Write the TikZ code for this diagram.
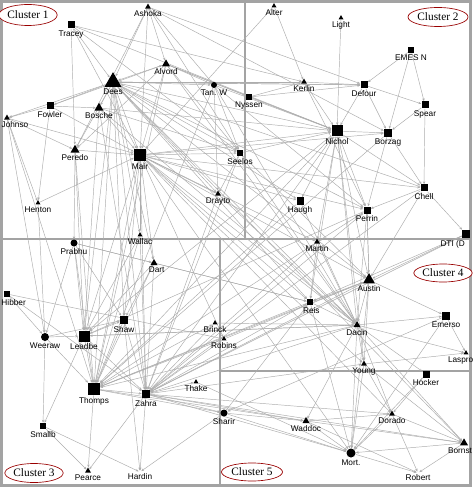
\documentclass[tikz,border=0pt]{standalone}
\usepackage{fontspec}
\newfontfamily\lblfont{Liberation Sans}
\newfontfamily\clfont{Liberation Serif}
\usetikzlibrary{shapes.geometric,arrows.meta,backgrounds}
\tikzset{
  tri/.style={regular polygon, regular polygon sides=3, fill=black, draw=none, inner sep=0pt, minimum size=#1*0.866pt},
  sq/.style={rectangle, fill=black, draw=none, inner sep=0pt, minimum size=#1*0.75pt},
  dot/.style={circle, fill=black, draw=none, inner sep=0pt, minimum size=#1*0.75pt},
  inv/.style={circle, draw=none, inner sep=0pt, minimum size=2pt},
  lab/.style={font=\lblfont\fontsize{6.2}{7}\selectfont, inner sep=0.4pt, text=black},
  every label/.style={lab},
  label distance=0.8pt,
  link/.style={draw=black!32, line width=0.35pt, -{Stealth[length=2.2pt,width=1.8pt]}},
  frame/.style={draw=black!36, line width=2.2pt},
  cluster/.style={ellipse, draw=red!60!black, line width=0.5pt, fill=white, inner sep=0pt, font=\clfont\fontsize{8.5}{10}\selectfont}
}
\begin{document}
\begin{tikzpicture}[x=0.75pt,y=-0.75pt]
\useasboundingbox (0,0) rectangle (474,488);
% nodes
\node[sq=7,label=below:Tracey] (tracey) at (71,25) {};
\node[tri=6,label=below:Ashoka] (ashoka) at (148,7) {};
\node[tri=17,label=below:Dees] (dees) at (113,82) {};
\node[tri=8,label=below:Alvord] (alvord) at (166,64) {};
\node[sq=7,label=below:Fowler] (fowler) at (50,106) {};
\node[tri=9,label=below:Bosche] (bosche) at (99,108) {};
\node[tri=6,label={[xshift=6pt]below:Johnso}] (johnso) at (7,118) {};
\node[tri=9,label=below:Peredo] (peredo) at (75,150) {};
\node[sq=12,label=below:Mair] (mair) at (140,155) {};
\node[tri=5,label=below:Henton] (henton) at (38,203) {};
\node[tri=5,label=below:Wallac] (wallac) at (140,235) {};
\node[dot=7,label=below:Prabhu] (prabhu) at (74,243) {};
\node[tri=7,label={[xshift=2pt]below:Dart}] (dart) at (154,263) {};
\node[sq=6,label={[xshift=5pt]below:Hibber}] (hibber) at (7,294) {};
\node[sq=6,label=below:Seelos] (seelos) at (240,153) {};
\node[tri=6,label=below:Drayto] (drayto) at (218,194) {};
\node[dot=6,label=below:{Tan. W}] (tanw) at (214,85) {};
\node[sq=6,label=below:Nyssen] (nyssen) at (249,97) {};
\node[tri=5,label=below:Alter] (alter) at (274,6) {};
\node[tri=6,label=below:Kerlin] (kerlin) at (304,82) {};
\node[tri=5,label=below:Light] (light) at (341,18) {};
\node[sq=6,label=below:{EMES N}] (emes) at (411,50) {};
\node[sq=7,label=below:Defour] (defour) at (364,85) {};
\node[sq=7,label=below:Spear] (spear) at (425,105) {};
\node[sq=11,label=below:Nichol] (nichol) at (337,131) {};
\node[sq=8,label=below:Borzag] (borzag) at (388,133) {};
\node[sq=7,label=below:Haugh] (haugh) at (300,201) {};
\node[sq=7,label=below:Chell] (chell) at (424,188) {};
\node[sq=7,label=below:Perrin] (perrin) at (367,210) {};
\node[sq=8,label={[xshift=-10pt]below:DTI (D}] (dti) at (466,234) {};
\node[tri=6,label=below:Martin] (martin) at (317,242) {};
\node[tri=12,label=below:Austin] (austin) at (369,280) {};
\node[sq=6,label={[xshift=1pt]below:Reis}] (reis) at (310,302) {};
\node[sq=8,label=below:Emerso] (emerso) at (446,316) {};
\node[tri=7,label=below:Dacin] (dacin) at (357,325) {};
\node[tri=5,label={[xshift=-4pt]below:Laspro}] (laspro) at (466,353) {};
\node[tri=6,label=below:Young] (young) at (364,364) {};
\node[sq=7,label=below:Hocker] (hocker) at (426,374) {};
\node[tri=6,label=below:Dorado] (dorado) at (392,414) {};
\node[tri=7,label=below:Waddoc] (waddoc) at (306,421) {};
\node[dot=9,label=below:Mort.] (mort) at (351,453) {};
\node[tri=8,label={[xshift=-3pt]below:Bornst}] (bornst) at (464,443) {};
\node[dot=7,label=below:Sharir] (sharir) at (224,413) {};
\node[tri=5,label=below:Thake] (thake) at (196,382) {};
\node[tri=5,label=below:Brinck] (brinck) at (215,323) {};
\node[tri=5,label=below:Robins] (robins) at (224,339) {};
\node[dot=8,label=below:Weeraw] (weeraw) at (45,337) {};
\node[sq=11,label=below:Leadbe] (leadbe) at (84,336) {};
\node[sq=8,label=below:Shaw] (shaw) at (124,320) {};
\node[sq=12,label=below:Thomps] (thomps) at (94,389) {};
\node[sq=8,label=below:Zahra] (zahra) at (146,394) {};
\node[sq=6,label=below:Smallb] (smallb) at (43,426) {};
\node[tri=6,label=below:Pearce] (pearce) at (88,471) {};
\node[inv,label={[label distance=-1pt]below:Hardin}] (hardin) at (140,472) {};
\node[inv,label={[label distance=-1pt]below:Robert}] (robert) at (418,473) {};
% cluster labels
\node[cluster,minimum width=49*0.75pt,minimum height=21*0.75pt] (c1) at (28,15) {Cluster 1};
\node[cluster,minimum width=60*0.75pt,minimum height=19*0.75pt] (c2) at (438,17) {Cluster 2};
\node[cluster,minimum width=57*0.75pt,minimum height=19*0.75pt] (c3) at (34,473) {Cluster 3};
\node[cluster,minimum width=58*0.75pt,minimum height=18*0.75pt] (c4) at (443,273) {Cluster 4};
\node[cluster,minimum width=61*0.75pt,minimum height=18*0.75pt] (c5) at (252,472) {Cluster 5};
\begin{scope}[on background layer]
\fill[white] (0,0) rectangle (474,488);
\draw[frame] (1.5,1.5) rectangle (470.5,485.5);
\draw[frame] (245,1.5) -- (245,239);
\draw[frame] (1.5,239) -- (470.5,239);
\draw[frame] (220,239) -- (220,485.5);
\draw[frame] (220,371) -- (470.5,371);
\foreach \a/\b in {
tracey/dees, tracey/peredo, tracey/mair, tracey/kerlin, tracey/nichol, tracey/seelos,
ashoka/dees, ashoka/alvord, ashoka/mair, ashoka/tanw, ashoka/seelos, ashoka/borzag, ashoka/peredo, ashoka/defour,
dees/fowler, dees/bosche, dees/mair, dees/peredo, dees/johnso, dees/defour, defour/dees, dees/kerlin, dees/tanw, dees/nichol, dees/seelos, dees/drayto, dees/thomps, dees/leadbe, dees/zahra, dees/dacin, dees/austin, dees/perrin, dees/wallac, dees/dart, dees/shaw, dees/reis, dees/bornst, dees/haugh,
alvord/dees, alvord/tanw, alvord/nyssen, alvord/mair, alvord/nichol, alvord/peredo, alvord/seelos, alvord/thomps, alvord/dacin,
fowler/johnso, fowler/bosche, fowler/alvord, fowler/henton, fowler/mair,
johnso/henton, johnso/peredo, johnso/mair, johnso/weeraw, johnso/thomps,
bosche/mair, bosche/seelos, bosche/nichol, bosche/leadbe, bosche/zahra, bosche/dacin,
peredo/mair, peredo/prabhu, peredo/thomps, peredo/leadbe,
henton/mair, henton/weeraw,
mair/nichol, mair/seelos, mair/drayto, mair/perrin, mair/chell, mair/austin, mair/dacin, mair/reis, mair/martin, mair/thomps, mair/leadbe, mair/zahra, mair/shaw, mair/wallac, mair/dart, mair/haugh, mair/young, mair/borzag, mair/robins, mair/mort, mair/dorado,
tanw/nichol, tanw/seelos, tanw/drayto, tanw/dacin, tanw/perrin, tanw/thomps,
seelos/nichol, seelos/drayto, seelos/zahra, seelos/dacin, seelos/austin,
drayto/zahra, drayto/dacin,
alter/kerlin, alter/mair,
light/nichol,
emes/defour, emes/borzag, emes/spear,
defour/nichol, defour/borzag, defour/spear, kerlin/defour, nyssen/defour,
nyssen/kerlin, nyssen/nichol,
kerlin/nichol, kerlin/perrin,
spear/borzag, spear/chell,
nichol/borzag, nichol/perrin, nichol/chell, nichol/haugh, nichol/dacin, nichol/austin, nichol/reis, nichol/thomps, nichol/zahra, nichol/leadbe, nichol/martin, nichol/young,
borzag/chell, borzag/perrin, borzag/thomps,
chell/dti, chell/perrin, chell/austin, chell/dees, chell/zahra,
perrin/austin, austin/perrin, perrin/dacin, perrin/martin, perrin/leadbe,
haugh/dacin, haugh/thomps,
dti/austin, dti/reis, dti/zahra,
martin/dacin, martin/reis, martin/thomps,
austin/dacin, austin/emerso, austin/mort, austin/young, austin/reis, austin/zahra, austin/thomps,
reis/dacin, reis/thomps, reis/mort,
dacin/laspro, dacin/young, dacin/emerso, dacin/dorado, dacin/mort, dacin/bornst, dacin/waddoc, dacin/hocker, dacin/thomps, dacin/leadbe, dacin/zahra,
emerso/laspro, emerso/mort, emerso/sharir,
young/laspro, young/mort, young/dorado, young/bornst,
prabhu/weeraw, prabhu/leadbe, prabhu/thomps, prabhu/dart, prabhu/shaw, prabhu/reis,
wallac/leadbe, wallac/thomps, wallac/zahra,
dart/shaw, dart/thomps, dart/zahra, dart/leadbe, dart/reis,
hibber/weeraw, hibber/zahra, hibber/robins,
weeraw/leadbe, weeraw/thomps, weeraw/smallb, weeraw/shaw,
leadbe/thomps, leadbe/shaw, leadbe/zahra, leadbe/smallb, leadbe/dacin,
shaw/thomps, shaw/zahra, shaw/hardin,
thomps/zahra, thomps/pearce, thomps/sharir, thomps/brinck, thomps/robins, thomps/waddoc,
zahra/thake, zahra/sharir, zahra/waddoc, zahra/dorado, zahra/mort, zahra/bornst, zahra/hardin, zahra/pearce, zahra/robins, zahra/brinck, zahra/young, zahra/reis, zahra/martin, zahra/perrin,
smallb/pearce, smallb/hardin,
sharir/hardin, sharir/mort, sharir/waddoc, sharir/reis,
brinck/dacin, robins/austin,
waddoc/mort, waddoc/dorado, waddoc/robert, waddoc/bornst,
dorado/mort, dorado/robert, dorado/bornst, hocker/dorado, hocker/mort,
mort/robert, bornst/robert, bornst/mort, thake/mort}
  \draw[link] (\a) -- (\b);
\end{scope}
\end{tikzpicture}
\end{document}
